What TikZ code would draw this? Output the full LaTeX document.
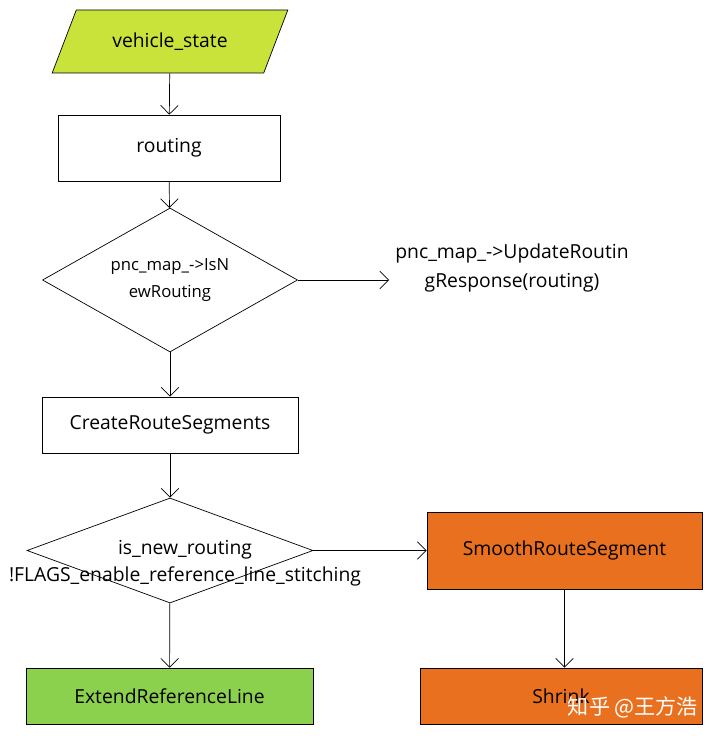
\documentclass[tikz,border=0pt]{standalone}
\usepackage{fontspec}
\setmainfont{Open Sans}
\newfontfamily\cjk{Noto Sans CJK SC}
\usetikzlibrary{shapes.geometric}
\usetikzlibrary{arrows.meta}
\definecolor{limefill}{HTML}{C9E33A}
\definecolor{greenfill}{HTML}{8CD14E}
\definecolor{orangefill}{HTML}{E8701F}
\begin{document}
\begin{tikzpicture}[x=0.02cm, y=-0.02cm,
  box/.style={draw, fill=white, inner sep=0pt, font=\fontsize{11}{13}\selectfont},
  choice/.style={draw, diamond, fill=white, inner sep=0pt},
  txt/.style={align=center, font=\fontsize{9.5}{15}\selectfont},
  flow/.style={-{Straight Barb[length=5pt, width=10pt]}, thin}
]
\useasboundingbox (0,0) rectangle (720,736);

% Input
\node[box, trapezium, trapezium left angle=50, trapezium right angle=130, fill=limefill,
  minimum width=236*0.02cm, minimum height=63*0.02cm, trapezium stretches=true] (state) at (170,41.5) {vehicle\_state};

% Main column
\node[box, minimum width=222*0.02cm, minimum height=66*0.02cm] (routing) at (169,148) {routing};
\node[choice, minimum width=255*0.02cm, minimum height=144*0.02cm] (isnew) at (170,280) {};
\node[txt] (isnewtxt) at (170,280) {pnc\_map\_->IsN\\ewRouting};
\node[box, minimum width=256*0.02cm, minimum height=56*0.02cm] (create) at (170,425) {CreateRouteSegments};
\node[choice, minimum width=286*0.02cm, minimum height=105*0.02cm] (stitch) at (170,550.5) {};
\node[txt, font=\fontsize{11}{15.5}\selectfont] (stitchtxt) at (185,563) {is\_new\_routing\\!FLAGS\_enable\_reference\_line\_stitching};
\node[box, fill=greenfill, minimum width=287*0.02cm, minimum height=56*0.02cm] (extend) at (169.5,696) {ExtendReferenceLine};

% Right side
\node[txt, font=\fontsize{11}{17}\selectfont] (update) at (512,268) {pnc\_map\_->UpdateRoutin\\gResponse(routing)};
\node[box, fill=orangefill, minimum width=275*0.02cm, minimum height=77*0.02cm] (smooth) at (564.5,550.5) {SmoothRouteSegment};
\node[box, fill=orangefill, minimum width=282*0.02cm, minimum height=56*0.02cm] (shrink) at (561,696) {Shrink};
\node[font=\cjk\fontsize{12}{14}\selectfont, text=white] (mark) at (633,707) {知乎 @王方浩};

% Connectors
\draw[flow] (state) -- (routing);
\draw[flow] (routing) -- (isnew);
\draw[flow] (isnew) -- (create);
\draw[flow] (create) -- (stitch);
\draw[flow] (stitch) -- (extend);
\draw[flow] (isnew.east) -- (isnew.east -| update.west);
\draw[flow] (stitch.east) -- (smooth.west |- stitch.east);
\draw[flow] (smooth) -- (smooth |- shrink.north);

\end{tikzpicture}
\end{document}
